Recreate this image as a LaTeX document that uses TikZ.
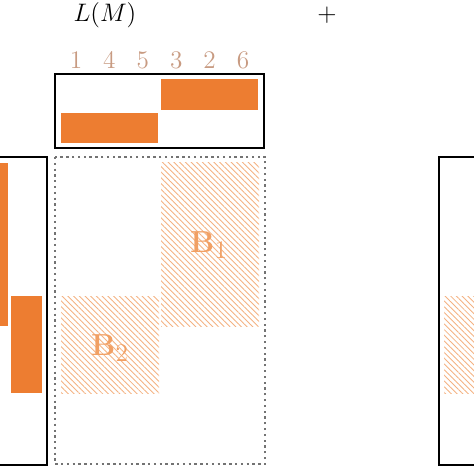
\documentclass[tikz,border=0pt]{standalone}
\usepackage{amsmath,amssymb}
\usepackage{tikz}
\usetikzlibrary{patterns.meta}
\usetikzlibrary{positioning}

\definecolor{barorange}{RGB}{237,125,49}
\definecolor{hatchorange}{RGB}{244,178,130}
\definecolor{labeltan}{RGB}{200,155,130}
\definecolor{blockorange}{RGB}{241,160,100}

\tikzset{
  frame/.style={draw=black, line width=1.2pt},
  dotframe/.style={draw=black!55, dotted, line width=1.3pt},
  bar/.style={fill=barorange, draw=none},
  hatch/.style={pattern={Lines[angle=-45,distance=2.3pt,line width=0.5pt]}, pattern color=hatchorange},
  collab/.style={text=labeltan, font=\fontsize{15}{18}\selectfont},
  blocklab/.style={text=blockorange, font=\fontsize{19}{22}\selectfont},
  title/.style={font=\fontsize{14}{17}\selectfont}
}

\begin{document}
\begin{tikzpicture}[x=0.02cm,y=-0.02cm]
 \useasboundingbox (0,0) rectangle (474,474);
 \begin{scope}
 \clip (0,0) rectangle (474,474);
 % titles
 \node[title] (lm) at (105,15) {$L(M)$};
 \node[title] (plus) at (327,15) {$+$};
 % column order
 \foreach \lab [count=\i] in {1,4,5,3,2,6}
   \node[collab] (c\i) at ({76+33.4*(\i-1)},60) {$\lab$};
 % top strip
 \path[bar] (161,79) rectangle (258,110);
 \path[bar] (61,113) rectangle (158,143);
 \draw[frame] (55,74) rectangle (264,148);
 % blocks
 \path[hatch] (161,162) rectangle (259,326);
 \path[hatch] (61,296) rectangle (159,393);
 \node[blocklab] (b1) at (209,245) {$\mathbf{B}_1$};
 \node[blocklab] (b2) at (110,348) {$\mathbf{B}_2$};
 \draw[dotframe] (55,157) rectangle (265,464);
 % left panel
 \path[bar] (-40,163) rectangle (8,326);
 \path[bar] (11,296) rectangle (42,393);
 \draw[frame] (-60,157) rectangle (47,465);
 % right panel
 \path[hatch] (444,296) rectangle (540,393);
 \draw[frame] (439,157) rectangle (560,465);
 \end{scope}
\end{tikzpicture}
\end{document}
